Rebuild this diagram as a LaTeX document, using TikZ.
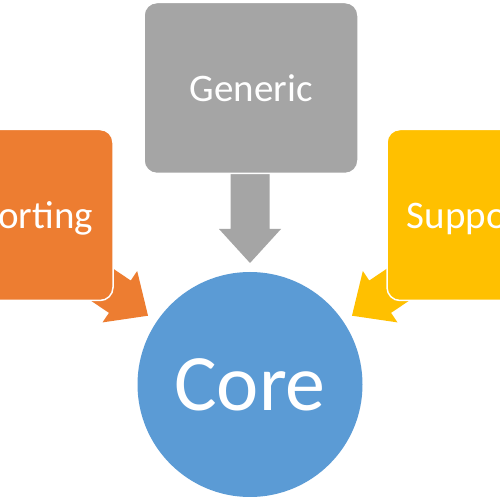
\documentclass[tikz,border=0pt]{standalone}
\usepackage{fontspec}
\setmainfont{Carlito}
\usetikzlibrary{calc}
\definecolor{cgray}{HTML}{A5A5A5}
\definecolor{corange}{HTML}{ED7D31}
\definecolor{cyellow}{HTML}{FFC000}
\definecolor{cblue}{HTML}{5B9BD5}
\newcommand\myblockarrow[3]{\fill[#1, shift={(#2)}, rotate=#3] (0,0) -- (-34,31) -- (-34,19.5) -- (-100,19.5) -- (-100,-19.5) -- (-34,-19.5) -- (-34,-31) -- cycle;}
\begin{document}
\begin{tikzpicture}[x=1pt,y=1pt,
  box/.style={rounded corners=13pt, draw=white, line width=1.5pt, minimum width=214pt, minimum height=171pt, text=white, font=\fontsize{39}{39}\selectfont, inner sep=0pt, text depth=0pt}]
\path[use as bounding box, clip] (0,0) rectangle (500,500);
\fill[white] (0,0) rectangle (500,500);
\node[circle, fill=cblue, minimum size=225pt, inner sep=0pt, text=white, font=\fontsize{80}{80}\selectfont, text depth=0pt] (core) at (250,115.5) {Core};
\coordinate (tipG) at ($(core.center)+(90:121.5)$);
\coordinate (tipL) at ($(core.center)+(146:123)$);
\coordinate (tipR) at ($(core.center)+(34:123)$);
\myblockarrow{cgray}{tipG}{-90}
\myblockarrow{corange}{tipL}{-34}
\myblockarrow{cyellow}{tipR}{214}
\node[box, fill=cgray] (generic) at (251,412) {Generic};
\node[box, fill=corange] (supL) at (6,285) {Supporting};
\node[box, fill=cyellow] (supR) at (494,285) {Supporting};
\end{tikzpicture}
\end{document}
